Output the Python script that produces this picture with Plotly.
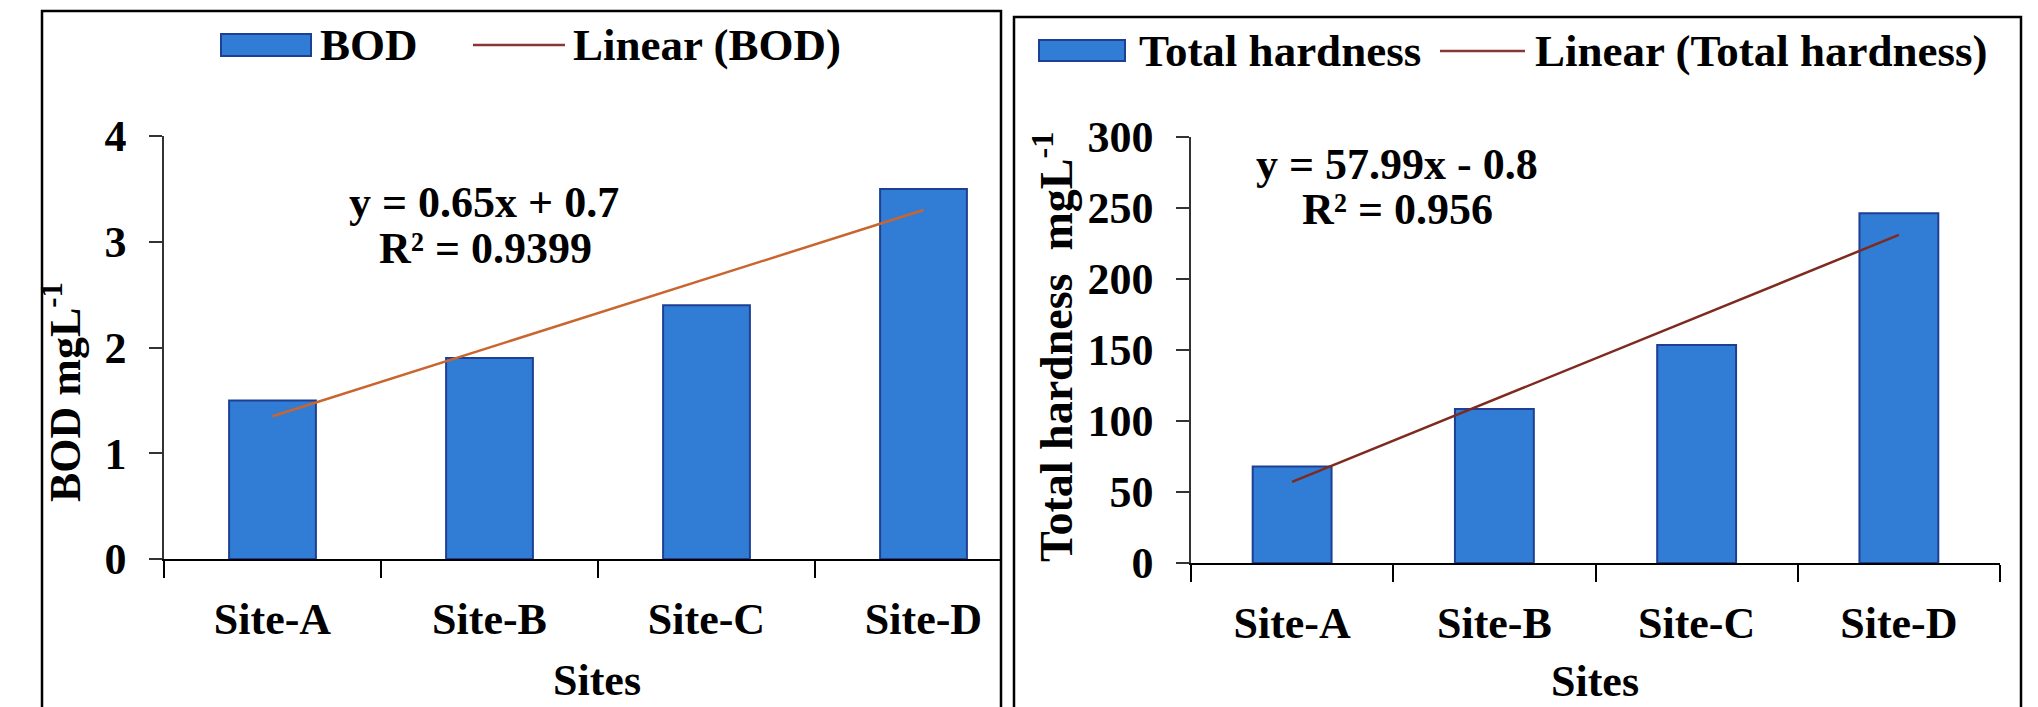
import numpy as np
import plotly.graph_objects as go

W, H = 2038, 707

# ---------------- data ----------------
sites = ["Site-A", "Site-B", "Site-C", "Site-D"]
bod = [1.5, 1.9, 2.4, 3.5]
hardness = [68.0, 108.5, 153.5, 246.3]
bod_ticks = [0, 1, 2, 3, 4]
hard_ticks = [0, 50, 100, 150, 200, 250, 300]
bod_eq = ["y = 0.65x + 0.7", "R² = 0.9399"]
hard_eq = ["y = 57.99x - 0.8", "R² = 0.956"]

# ---------------- helpers ----------------
def px(x):
    return x / W


def py(y):
    return 1 - y / H


FONT = "Liberation Serif, Times New Roman, serif"
FS = 44
BAR_FILL = "#317DD6"
BAR_EDGE = "#1D3F94"
TREND1 = "#C9652F"
TREND2 = "#7E2A1E"
LEG_LINE = "#8B3535"

xi = np.arange(1, len(sites) + 1)
k1, b1 = np.polyfit(xi, bod, 1)
k2, b2 = np.polyfit(xi, hardness, 1)
trend1 = k1 * xi + b1
trend2 = k2 * xi + b2

fig = go.Figure()
fig.add_trace(go.Bar(x=sites, y=bod, xaxis="x", yaxis="y", width=0.4,
                     marker=dict(color=BAR_FILL, line=dict(color=BAR_EDGE, width=2)),
                     name="BOD"))
fig.add_trace(go.Scatter(x=sites, y=trend1, xaxis="x", yaxis="y", mode="lines",
                         line=dict(color=TREND1, width=2.5), name="Linear (BOD)"))
fig.add_trace(go.Bar(x=sites, y=hardness, xaxis="x2", yaxis="y2", width=0.39,
                     marker=dict(color=BAR_FILL, line=dict(color=BAR_EDGE, width=2)),
                     name="Total hardness"))
fig.add_trace(go.Scatter(x=sites, y=trend2, xaxis="x2", yaxis="y2", mode="lines",
                         line=dict(color=TREND2, width=2.5), name="Linear (Total hardness)"))

tickfont = dict(family=FONT, size=FS, color="black", weight="bold")

common_x = dict(type="category", tickson="boundaries", ticks="outside", ticklen=17,
                tickwidth=2, tickcolor="black", showline=True, linecolor="black",
                linewidth=2, tickfont=tickfont, showgrid=False, zeroline=False,
                categoryorder="array", categoryarray=sites, automargin=False,
                ticklabelstandoff=20)
common_y = dict(ticks="outside", ticklen=13, tickwidth=1.5, tickcolor="#333",
                showline=True, linecolor="#333", linewidth=1.5, tickfont=tickfont,
                showgrid=False, zeroline=False, ticklabelstandoff=14, automargin=False)

cat_w1 = 217.0
x1_left, x1_right = 164, 1001
fig.update_layout(
    xaxis=dict(domain=[px(x1_left), px(x1_right)],
               range=[-0.5, -0.5 + (x1_right - x1_left) / cat_w1],
               anchor="y", **common_x),
    yaxis=dict(domain=[py(559), py(136)], range=[0, 4], tickvals=bod_ticks,
               anchor="x", **common_y),
    xaxis2=dict(domain=[px(1191), px(2000)], range=[-0.5, 3.5], anchor="y2", **common_x),
    yaxis2=dict(domain=[py(563), py(137)], range=[0, 300], tickvals=hard_ticks,
                anchor="x2", **common_y),
)

shapes = []
# panel borders
shapes.append(dict(type="rect", xref="paper", yref="paper", x0=px(42), x1=px(1001),
                   y0=py(H + 10), y1=py(11), line=dict(color="black", width=2.5)))
shapes.append(dict(type="rect", xref="paper", yref="paper", x0=px(1014), x1=px(2021),
                   y0=py(H + 10), y1=py(17), line=dict(color="black", width=2.5)))
# legend symbols
shapes.append(dict(type="rect", xref="paper", yref="paper", x0=px(221), x1=px(311),
                   y0=py(56), y1=py(34), fillcolor=BAR_FILL,
                   line=dict(color=BAR_EDGE, width=2)))
shapes.append(dict(type="line", xref="paper", yref="paper", x0=px(473), x1=px(565),
                   y0=py(45), y1=py(45), line=dict(color=LEG_LINE, width=2.5)))
shapes.append(dict(type="rect", xref="paper", yref="paper", x0=px(1039), x1=px(1125),
                   y0=py(61), y1=py(40), fillcolor=BAR_FILL,
                   line=dict(color=BAR_EDGE, width=2)))
shapes.append(dict(type="line", xref="paper", yref="paper", x0=px(1440), x1=px(1525),
                   y0=py(51), y1=py(51), line=dict(color=LEG_LINE, width=2.5)))

ann_font = dict(family=FONT, size=FS, color="black", weight="bold")


def ann(text, x, y, xanchor="center", angle=0, size=FS):
    f = dict(ann_font)
    f["size"] = size
    return dict(text=text, x=px(x), y=py(y), xref="paper", yref="paper",
                xanchor=xanchor, yanchor="middle", showarrow=False,
                textangle=angle, font=f)


annotations = [
    ann("BOD", 318, 45, "left", size=45),
    ann("Linear (BOD)", 571, 45, "left", size=45),
    ann("Total hardness", 1137, 51, "left", size=45),
    ann("Linear (Total hardness)", 1533, 51, "left", size=45),
    ann(bod_eq[0], 484, 202),
    ann(bod_eq[1], 485, 248),
    ann(hard_eq[0], 1397, 164),
    ann(hard_eq[1], 1397, 209),
    ann("BOD mgL<sup>-1</sup>", 62, 392, angle=-90),
    ann("Total hardness  mgL<sup>-1</sup>", 1053, 347, angle=-90, size=46),
    ann("Sites", 597, 680),
    ann("Sites", 1595, 681),
]

fig.update_layout(
    width=W, height=H,
    margin=dict(l=0, r=0, t=0, b=0, pad=0, autoexpand=False),
    paper_bgcolor="white", plot_bgcolor="white",
    showlegend=False, bargap=0.6,
    shapes=shapes, annotations=annotations,
    font=dict(family=FONT, color="black"),
)

fig.write_html("out.html")
